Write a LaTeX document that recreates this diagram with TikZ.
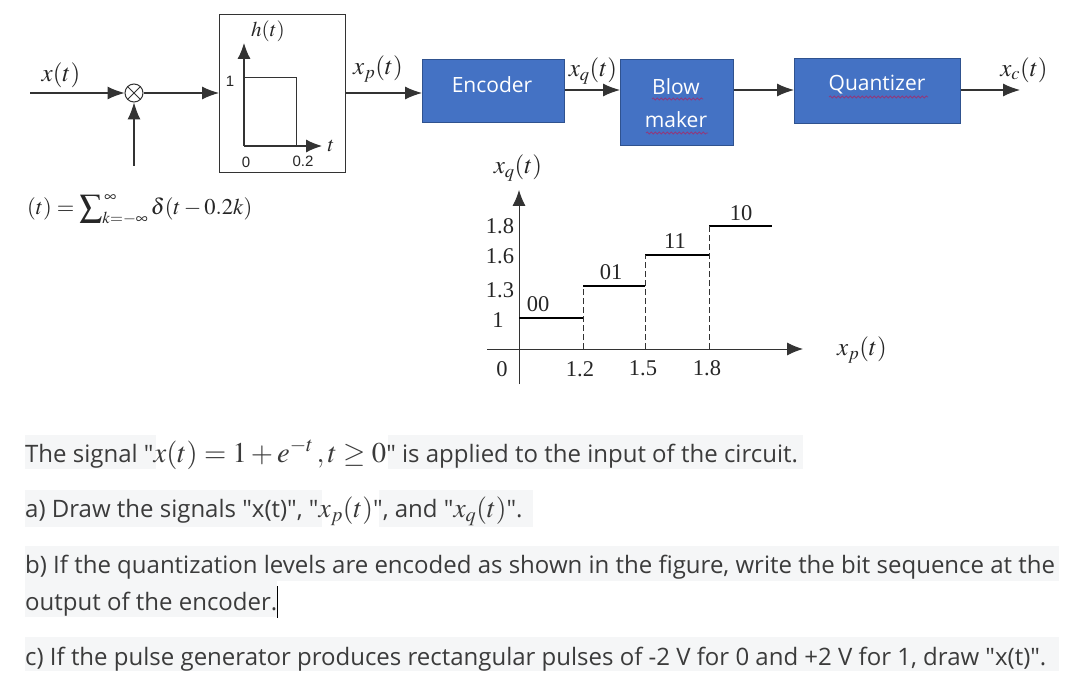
\documentclass[tikz,border=0pt]{standalone}
\usepackage{mathptmx}
\usepackage{fontspec}
\setmainfont{Open Sans}
\newfontfamily\timesfont{Liberation Serif}
\newfontfamily\plainfont{Open Sans}
\usetikzlibrary{arrows.meta,decorations.pathmorphing}

\definecolor{wireink}{HTML}{333333}
\definecolor{blockblue}{HTML}{4472C4}
\definecolor{blockedge}{HTML}{2F528F}
\definecolor{bandgrey}{HTML}{F5F6F7}
\definecolor{bodyink}{HTML}{3B3B3B}
\definecolor{spellink}{HTML}{8E3A7E}

\newcommand{\mathbig}[1]{{\fontsize{27.5}{30}\selectfont #1}}
\newcommand{\mathbigger}[1]{{\fontsize{28.6}{30}\selectfont #1}}

\tikzset{
    wire/.style={draw=wireink, line width=1.1pt, -{Latex[length=17pt,width=13pt]}},
    smallwire/.style={draw=wireink, line width=1.1pt, -{Latex[length=16pt,width=13pt]}},
    block/.style={draw=blockedge, line width=1.2pt, fill=blockblue, text=white, inner sep=0pt, anchor=north west},
    blocktext/.style={inner sep=0pt, text=white, font=\fontsize{21}{25}\selectfont},
    sig/.style={inner sep=0pt, font=\fontsize{25}{28}\selectfont, text=black!85},
    tick/.style={inner sep=0pt, font=\timesfont\fontsize{22.5}{26}\selectfont, text=black!85},
    hlabel/.style={inner sep=0pt, font=\fontsize{15}{18}\selectfont\fontspec{Liberation Sans}, text=black!85},
    step line/.style={draw=black, line width=1.7pt},
    dash line/.style={draw=wireink, line width=0.9pt, dash pattern=on 6pt off 3pt},
    band/.style={fill=bandgrey, draw=none},
    body/.style={inner sep=0pt, anchor=base west, text=bodyink, font=\plainfont\fontsize{24}{30}\selectfont},
    spell/.style={draw=spellink, line width=0.8pt, decorate, decoration={snake, amplitude=1pt, segment length=4pt}}
}

\begin{document}
\begin{tikzpicture}[x=1pt,y=-1pt]
    \useasboundingbox (0,0) rectangle (1080,698);
    \fill[white] (0,0) rectangle (1080,698);

    % text bands
    \fill[band] (25,435) rectangle (156,469);
    \fill[band] (388,435) rectangle (803,469);
    \fill[band] (25,490) rectangle (322,527);
    \fill[band] (379,490) rectangle (533,527);
    \fill[band] (25,546) rectangle (1059,581);
    \fill[band] (25,581) rectangle (277,617);
    \fill[band] (25,637) rectangle (1059,671);

    % sampler
    \coordinate (in) at (30,93);
    \coordinate (train) at (134,166);
    \node[circle, draw=wireink, line width=1pt, minimum size=18pt, inner sep=0pt] (mix) at (134,93) {};
    \draw[wireink, line width=0.8pt] (mix.north west) -- (mix.south east);
    \draw[wireink, line width=0.8pt] (mix.north east) -- (mix.south west);
    \node[draw=wireink, line width=1pt, minimum width=126pt, minimum height=158pt, anchor=north west, inner sep=0pt] (hold) at (219,14) {};

    \draw[wire] (in) -- (mix);
    \draw[wire] (train) -- (mix);
    \draw[wire] (mix) -- (hold.west |- mix);

    \node[sig] (xin) at (61,75) {$x(t)$};
    \node[sig, anchor=west, font=\fontsize{22.5}{26}\selectfont] (train label) at (27,210) {$\displaystyle (t)=\sum\nolimits_{k=-\infty}^{\,\infty}\delta(t-0.2k)$};

    % h(t) inside the box
    \coordinate (horigin) at (244,146);
    \coordinate (htop) at (244,43);
    \coordinate (hright) at (322,146);
    \draw[smallwire] (horigin) -- (htop);
    \draw[smallwire] (horigin) -- (hright);
    \draw[wireink, line width=1pt] (244,78) -- (296,78) -- (296,146);
    \node[sig, font=\fontsize{21}{24}\selectfont] (hlab) at (268,31) {$h(t)$};
    \node[sig, font=\fontsize{21}{24}\selectfont] (tlab) at (331,146) {$t$};
    \node[hlabel] (hone) at (230,81) {1};
    \node[hlabel] (hzero) at (246,162) {0};
    \node[hlabel] (hend) at (303,161) {0.2};

    % blocks
    \node[block, minimum width=142pt, minimum height=63pt] (encoder) at (422,59) {};
    \node[block, minimum width=113pt, minimum height=86pt] (blow) at (620,59) {};
    \node[block, minimum width=166pt, minimum height=65pt] (quant) at (794,58) {};
    \coordinate (out) at (1020,90);

    \node[blocktext] (encoder text) at (492,85) {Encoder};
    \node[blocktext] (blow text) at (676,87) {Blow};
    \node[blocktext] (maker text) at (676,120) {maker};
    \node[blocktext] (quant text) at (877,85) {Quantizer};
    \draw[spell] (652,99) -- (703,99);
    \draw[spell] (646,133) -- (708,133);
    \draw[spell] (829,97) -- (928,97);

    \draw[wire] (hold.east |- mix) -- (encoder.west |- mix);
    \draw[wire] (encoder.east |- out) -- (blow.west |- out);
    \draw[wire] (blow.east |- out) -- (quant.west |- out);
    \draw[wire] (quant.east |- out) -- (out);

    \node[sig] (xp) at (378,69) {$x_p(t)$};
    \node[sig] (xq) at (593,71) {$x_q(t)$};
    \node[sig] (xc) at (1024,70) {$x_c(t)$};

    % quantizer curve
    \coordinate (yfoot) at (519,384);
    \coordinate (ytop) at (519,190);
    \coordinate (xfoot) at (487,349);
    \coordinate (xtip) at (803,349);
    \draw[smallwire, line width=0.9pt] (yfoot) -- (ytop);
    \draw[smallwire, line width=0.9pt] (xfoot) -- (xtip);

    \draw[step line] (519,318) -- (583,318);
    \draw[step line] (583,286) -- (645,286);
    \draw[step line] (645,255) -- (709,255);
    \draw[step line] (709,226) -- (772,226);
    \draw[dash line] (583,349) -- (583,286);
    \draw[dash line] (645,349) -- (645,255);
    \draw[dash line] (709,349) -- (709,226);

    \node[sig] (qaxis) at (518,168) {$x_q(t)$};
    \node[sig] (paxis) at (862,350) {$x_p(t)$};
    \node[tick] (level a) at (500,226) {1.8};
    \node[tick] (level b) at (500,256) {1.6};
    \node[tick] (level c) at (500,290) {1.3};
    \node[tick] (level d) at (498,320) {1};
    \node[tick] (zero) at (502,369) {0};
    \node[tick] (cut a) at (580,369) {1.2};
    \node[tick] (cut b) at (643,368) {1.5};
    \node[tick] (cut c) at (707,368) {1.8};
    \node[tick] (code a) at (538,304) {00};
    \node[tick] (code b) at (611,272) {01};
    \node[tick] (code c) at (675,241) {11};
    \node[tick] (code d) at (741,213) {10};

    % question text
    \node[body] (line a) at (25,462) {The signal "\mathbigger{$x(t)=1+e^{-t}\,,t\geq 0$}" is applied to the input of the circuit.};
    \node[body] (line b) at (25,517) {a) Draw the signals "x(t)", "\mathbig{$x_p(t)$}", and "\mathbig{$x_q(t)$}".};
    \node[body] (line c) at (25,573) {b) If the quantization levels are encoded as shown in the figure, write the bit sequence at the};
    \node[body] (line d) at (25,610) {output of the encoder.};
    \node[body] (line e) at (25,665) {c) If the pulse generator produces rectangular pulses of -2 V for 0 and +2 V for 1, draw "x(t)".};
    \coordinate (caret) at (277,586);
    \draw[black, line width=0.8pt] (caret) -- ++(0,32);
\end{tikzpicture}
\end{document}
